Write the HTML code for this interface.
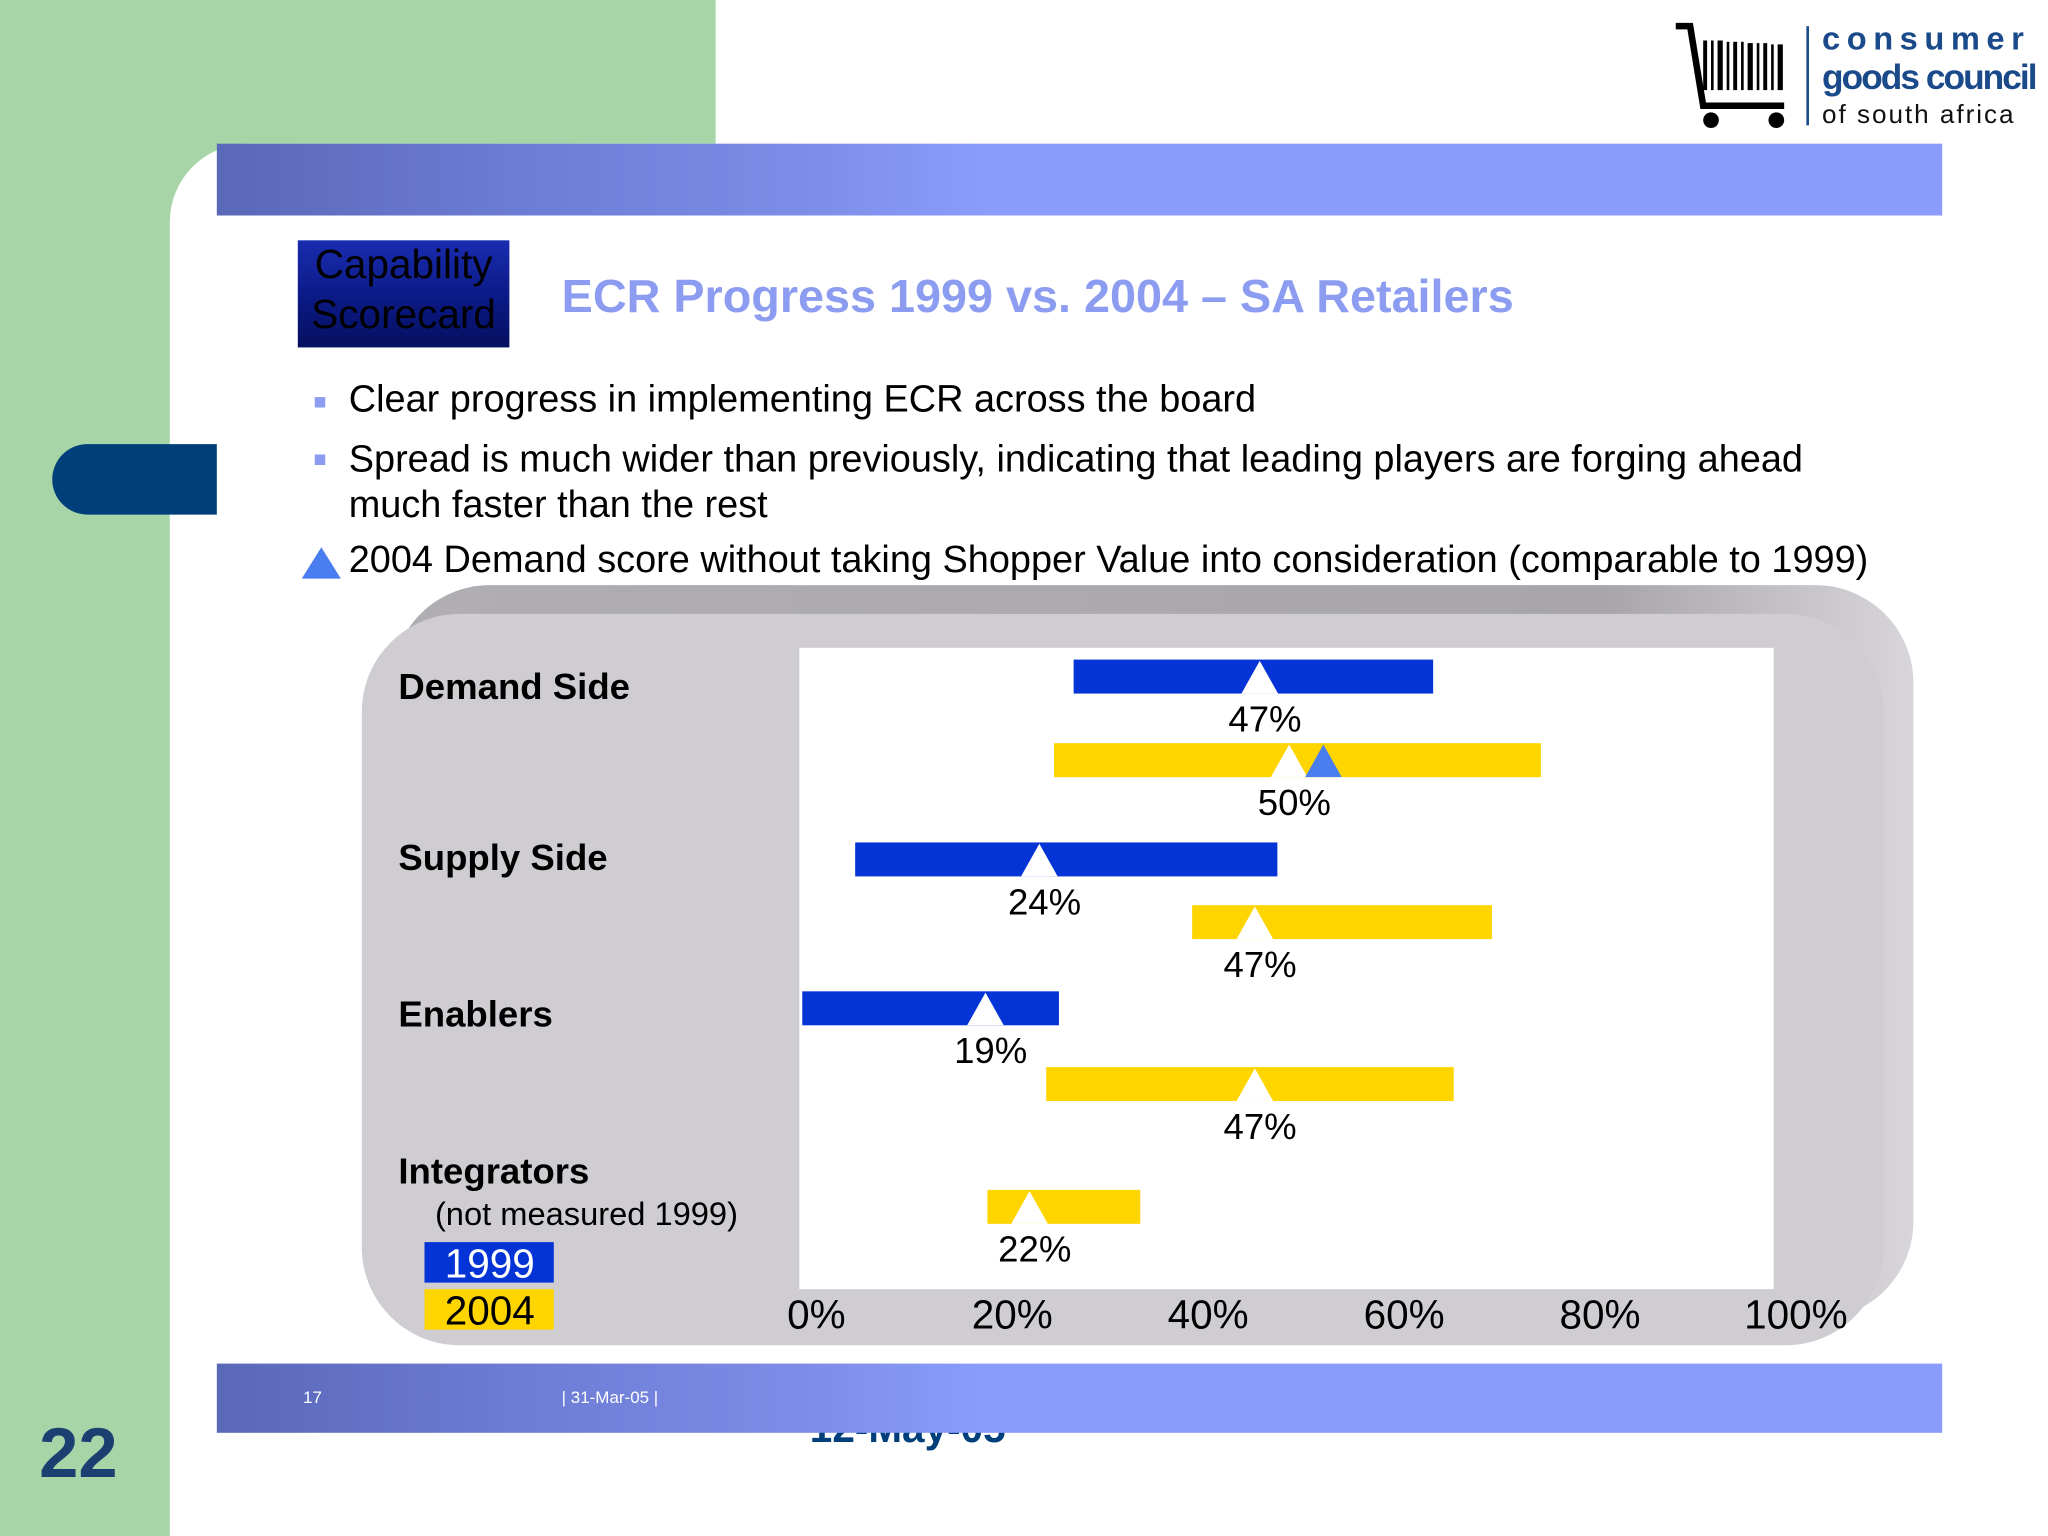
<!DOCTYPE html>
<html><head><meta charset="utf-8">
<style>
html,body{margin:0;padding:0;width:2048px;height:1536px;overflow:hidden;background:#fff;font-family:"Liberation Sans",sans-serif;}
#wrap{position:absolute;left:0;top:0;width:1568px;height:1176px;transform:scale(1.306122);transform-origin:0 0;}
.abs{position:absolute;}
.band{background:linear-gradient(90deg,#5a68b8 0%,#6f7fd8 20%,#7e8ee8 35%,#8c9cfc 45%,#8c9cfc 100%);}
.bul{position:absolute;left:267px;font-size:29px;color:#000;white-space:nowrap;}
.sq{position:absolute;left:241px;width:8px;height:8px;background:#8c9cf0;}
</style></head><body>
<div id="wrap">
<div class="abs" style="left:0;top:0;width:548px;height:1176px;background:#a8d5a8"></div>
<div class="abs" style="left:130px;top:110px;width:1438px;height:1066px;background:#fff;border-top-left-radius:60px"></div>
<div class="abs" style="left:548px;top:0;width:1020px;height:110px;background:#fff"></div>
<div class="abs band" style="left:166px;top:110px;width:1321px;height:55px"></div>

<svg class="abs" style="left:1280px;top:15px" width="95" height="90" viewBox="0 0 95 90">
<path d="M3 5 H14 L24 66 H86" fill="none" stroke="#000" stroke-width="5"/>
<g fill="#000"><rect x="24" y="16" width="3" height="38"/><rect x="30" y="16" width="2" height="38"/><rect x="35" y="16" width="4" height="38"/><rect x="42" y="17" width="2" height="37"/><rect x="47" y="17" width="3" height="37"/><rect x="53" y="17" width="2" height="37"/><rect x="58" y="18" width="4" height="36"/><rect x="65" y="18" width="2" height="36"/><rect x="70" y="18" width="3" height="36"/><rect x="76" y="19" width="2" height="35"/><rect x="81" y="19" width="4" height="35"/></g>
<circle cx="30" cy="77" r="6" fill="#000"/><circle cx="80" cy="77" r="6" fill="#000"/>
</svg>
<div class="abs" style="left:1383px;top:20px;width:2px;height:76px;background:#1a4a8a"></div>
<div class="abs" style="left:1395px;top:16px;font-size:25px;font-weight:bold;color:#1a4a8a;letter-spacing:5px">consumer</div>
<div class="abs" style="left:1395px;top:44px;font-size:27px;font-weight:bold;color:#1a4a8a;letter-spacing:-1.5px">goods council</div>
<div class="abs" style="left:1395px;top:77px;font-size:20px;color:#111;letter-spacing:1.5px">of south africa</div>

<div class="abs" style="left:228px;top:184px;width:162px;height:82px;background:linear-gradient(180deg,#1a2cb0,#0a1880 60%,#061060);color:#000;font-size:31px;line-height:38px;text-align:center;overflow:hidden;white-space:nowrap">Capability<br>Scorecard</div>
<div class="abs" style="left:430px;top:207px;font-size:35.8px;font-weight:bold;color:#8c9cf0;white-space:nowrap">ECR Progress 1999 vs. 2004 – SA Retailers</div>

<div class="abs" style="left:40px;top:340px;width:126px;height:54px;background:#003f7a;border-radius:27px 0 0 27px"></div>

<div class="sq" style="top:304px"></div>
<div class="bul" style="top:290px">Clear progress in implementing ECR across the board</div>
<div class="sq" style="top:348px"></div>
<div class="bul" style="top:335px;line-height:35px">Spread is much wider than previously, indicating that leading players are forging ahead<br>much faster than the rest</div>
<svg class="abs" style="left:230px;top:418px" width="32" height="26"><polygon points="16,1 31,25 1,25" fill="#4a7ef0"/></svg>
<div class="bul" style="top:413px">2004 Demand score without taking Shopper Value into consideration (comparable to 1999)</div>

<div class="abs" style="left:300px;top:448px;width:1165px;height:562px;background:linear-gradient(90deg,#b0aeb2,#a8a6aa 80%,#d8d6da);border-radius:75px"></div>
<div class="abs" style="left:277px;top:470px;width:1165px;height:560px;background:#cfcdd1;border-radius:75px"></div>

<svg class="abs" id="chart" style="left:0;top:0" width="1568" height="1176"></svg>

<div class="abs" style="left:620px;top:1076px;font-size:31px;font-weight:bold;color:#003f7a">12-May-05</div>
<div class="abs band" style="left:166px;top:1044px;width:1321px;height:53px"></div>
<div class="abs" style="left:232px;top:1062px;font-size:13px;color:#fff">17</div>
<div class="abs" style="left:430px;top:1062px;font-size:13px;color:#fff">| 31-Mar-05 |</div>
<div class="abs" style="left:30px;top:1082px;font-size:54px;font-weight:bold;color:#1a3f70">22</div>
</div>
<script>
const categories=["Demand Side","Supply Side","Enablers","Integrators"];
const seriesYears=["1999","2004"];
const barLow=[28,26,5.7,40.1,0.3,25.2,19.2];
const barHigh=[64.7,75.7,48.8,70.7,26.5,66.8,34.8];
const barMean=[47,50,24.5,46.5,19,46.5,23.5];
const barSeries=[0,1,0,1,0,1,1];
const barLabels=["47%","50%","24%","47%","19%","47%","22%"];
const extraMarker=[null,53.5,null,null,null,null,null];
const ticks=[0,20,40,60,80,100];
const tickLabels=["0%","20%","40%","60%","80%","100%"];
</script>
<script>
const NS="http://www.w3.org/2000/svg";
const svg=document.getElementById('chart');
const X0=612,X1=1362;
const x=v=>X0+(X1-X0)*v/100;
const barTops=[505,569,645,693,759,817,911];
const BH=26;
const colors=["#0433d6","#ffd500"];
function mk(t,a){const e=document.createElementNS(NS,t);for(const k in a)e.setAttribute(k,a[k]);svg.appendChild(e);return e;}
let p=mk('rect',{x:612,y:496,width:746,height:491,fill:'#fff'});


barLow.forEach((lo,i)=>{
  const y=barTops[i];
  const r=mk('rect',{x:x(lo),y:y,width:x(barHigh[i])-x(lo),height:BH,fill:colors[barSeries[i]]});
  
  
  const m=x(barMean[i]);
  const t=mk('polygon',{points:`${m},${y+1} ${m+14},${y+BH} ${m-14},${y+BH}`,fill:'#fff'});
  
  
  if(extraMarker[i]!=null){const e=x(extraMarker[i]);
    const b=mk('polygon',{points:`${e},${y+1} ${e+14},${y+BH} ${e-14},${y+BH}`,fill:'#4a7ef0'});
    
    }
  const l=mk('text',{x:m+4,y:y+BH+29,'text-anchor':'middle','font-size':28,'font-family':'Liberation Sans, sans-serif',fill:'#000'});
  l.textContent=barLabels[i];
  
  
});
ticks.forEach((v,i)=>{
  const t=mk('text',{x:x(v)+13,y:1017,'text-anchor':'middle','font-size':31,'font-family':'Liberation Sans, sans-serif',fill:'#000'});
  t.textContent=tickLabels[i];
  
  
});
const catY=[535,666,786,906];
categories.forEach((c,i)=>{
  const t=mk('text',{x:305,y:catY[i],'font-size':28,'font-weight':'bold','font-family':'Liberation Sans, sans-serif',fill:'#000'});
  t.textContent=c;
  
  
});
let n=mk('text',{x:333,y:938,'font-size':25,'font-family':'Liberation Sans, sans-serif',fill:'#000'});
n.textContent='(not measured 1999)';


seriesYears.forEach((s,i)=>{
  const y=951+i*36;
  const r=mk('rect',{x:325,y:y,width:99,height:31,fill:colors[i]});
  
  
  const t=mk('text',{x:375,y:y+27,'text-anchor':'middle','font-size':31,'font-family':'Liberation Sans, sans-serif',fill:i==0?'#fff':'#000'});
  t.textContent=s;
  
  
});
</script>
</body></html>
